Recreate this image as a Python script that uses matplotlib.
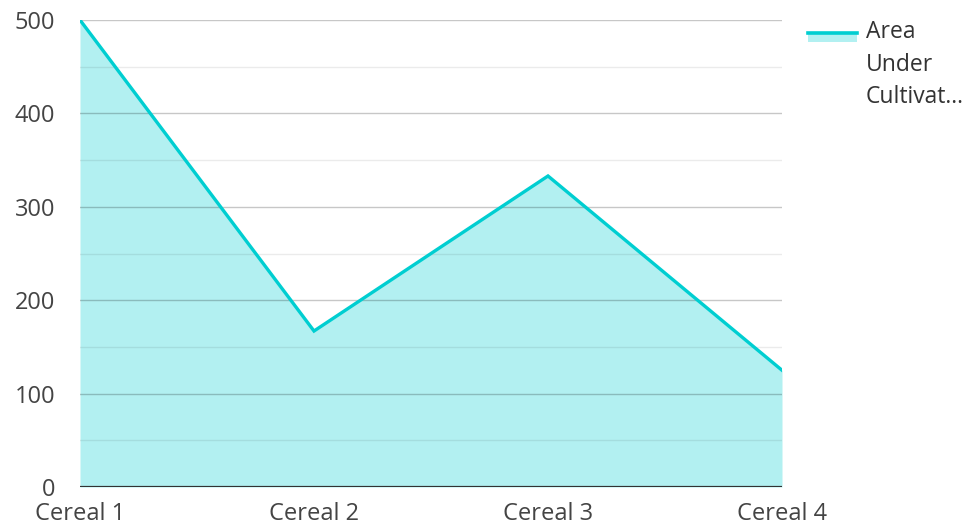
import matplotlib
matplotlib.use("Agg")
import matplotlib.pyplot as plt
from matplotlib.patches import Rectangle
from matplotlib.lines import Line2D

categories = ["Cereal 1", "Cereal 2", "Cereal 3", "Cereal 4"]
area = [500, 167, 333, 125]
series_name = "Area\nUnder\nCultivat..."
y_ticks = [0, 100, 200, 300, 400, 500]

line_color = "#00CED1"
fill_color = "#B2F0F1"
text_color = "#444444"

plt.rcParams["font.family"] = ["Open Sans", "DejaVu Sans"]

W, H = 976, 526
fig = plt.figure(figsize=(W / 100, H / 100), dpi=100)
ax = fig.add_axes([80 / W, 39 / H, 702 / W, 467 / H])

x = list(range(len(categories)))
ax.fill_between(x, area, 0, color=fill_color, lw=0, zorder=1)
ax.plot(x, area, color=line_color, lw=2.4, zorder=3, solid_joinstyle="miter")

# grid: major every 100, minor every 50
for v in range(0, 501, 50):
    if v % 100 == 0:
        ax.axhline(v, color="#000000", alpha=0.22, lw=1.0, zorder=2)
    else:
        ax.axhline(v, color="#000000", alpha=0.08, lw=1.0, zorder=2)
ax.axhline(0, color="#333333", lw=1.6, zorder=4)

ax.set_xlim(0, len(categories) - 1)
ax.set_ylim(0, 500)
ax.set_xticks(x)
ax.set_xticklabels(categories)
ax.set_yticks(y_ticks)
ax.tick_params(axis="both", length=0, labelsize=17, colors=text_color)
ax.tick_params(axis="x", pad=10.5)
ax.tick_params(axis="y", pad=18)
for s in ax.spines.values():
    s.set_visible(False)

# legend
fig.add_artist(Rectangle((808 / W, 1 - 42 / H), 49 / W, 9 / H,
                         transform=fig.transFigure, color=fill_color, lw=0))
fig.add_artist(Line2D([808 / W, 857 / W], [1 - 33 / H, 1 - 33 / H],
                      transform=fig.transFigure, color=line_color, lw=2.6))
fig.text(866 / W, 1 - 20 / H, series_name, ha="left", va="top",
         fontsize=16.5, color="#333333", linespacing=1.48)

fig.savefig("out.png", dpi=100)
